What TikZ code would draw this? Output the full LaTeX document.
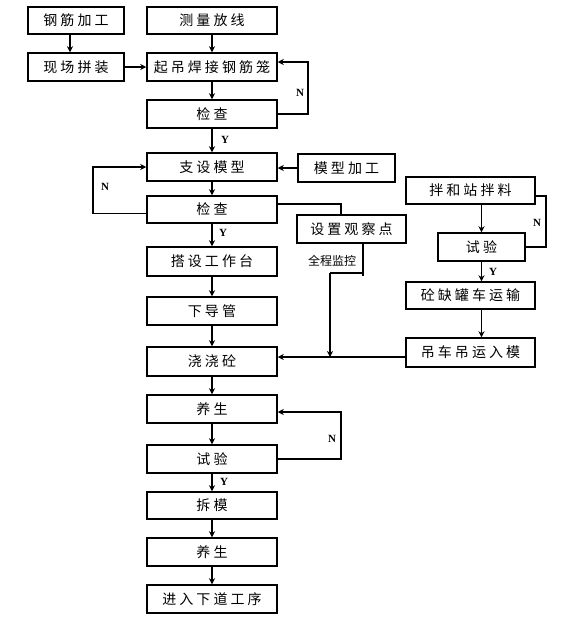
\documentclass[tikz,border=0pt]{standalone}
\usepackage{fontspec}
\setmainfont{Liberation Serif}
\newfontfamily\cjk[LetterSpace=22]{Noto Sans CJK SC}
\newfontfamily\cjkplain{Noto Sans CJK SC}
\usetikzlibrary{arrows.meta}
\begin{document}
\begin{tikzpicture}[x=1pt,y=-1pt,
  box/.style={draw,line width=1.5pt,inner sep=0pt,font=\cjk\fontsize{14}{16}\selectfont},
  col/.style={box,minimum width=130pt},
  arr/.style={line width=1.5pt,-{Stealth[length=6pt,width=6pt]}},
  ln/.style={line width=1.5pt},
  yn/.style={font=\bfseries\fontsize{11}{13}\selectfont,inner sep=0pt}]
\useasboundingbox (0,0) rectangle (565,622);
% left column
\node[box,minimum width=96pt,minimum height=27pt] (A) at (76,20.5) {钢筋加工};
\node[box,minimum width=96pt,minimum height=28pt] (C) at (76,67) {现场拼装};
% center column
\node[col,minimum height=27pt] (B) at (212,20.5) {测量放线};
\node[col,minimum height=28pt] (D) at (212,67) {起吊焊接钢筋笼};
\node[col,minimum height=28pt] (E) at (212,114) {检查};
\node[col,minimum height=28pt] (F) at (212,167) {支设模型};
\node[col,minimum height=27pt] (H) at (212,209.5) {检查};
\node[col,minimum height=29pt] (J) at (212,261.5) {搭设工作台};
\node[col,minimum height=28pt] (K) at (212,311) {下导管};
\node[col,minimum height=29pt] (L) at (212,361.5) {浇浇砼};
\node[col,minimum height=28pt] (M) at (212,409) {养生};
\node[col,minimum height=28pt] (N) at (212,459) {试验};
\node[col,minimum height=27pt] (O) at (212,505.5) {拆模};
\node[col,minimum height=28pt] (P) at (212,552) {养生};
\node[col,minimum height=28pt] (Q) at (212,599) {进入下道工序};
% middle
\node[box,minimum width=97pt,minimum height=28pt] (G) at (346.5,168) {模型加工};
\node[box,minimum width=109pt,minimum height=28pt] (I) at (351.5,229) {设置观察点};
% right column
\node[box,minimum width=129pt,minimum height=27pt] (R) at (470.5,190.5) {拌和站拌料};
\node[box,minimum width=87pt,minimum height=28pt] (S) at (481.5,247) {试验};
\node[box,minimum width=129pt,minimum height=27pt] (T) at (470.5,295.5) {砼缺罐车运输};
\node[box,minimum width=129pt,minimum height=29pt] (U) at (470.5,352.5) {吊车吊运入模};
% arrows left/center
\draw[arr] ([xshift=-6pt]A.south) -- ([xshift=-6pt]C.north);
\draw[arr] (B) -- (D);
\draw[arr] (C.east) -- (C.east -| D.west);
\draw[arr] (D) -- (E);
\draw[arr] (E) -- (F);
\draw[arr] (F) -- (H);
\draw[arr] (H) -- (J);
\draw[arr] (J) -- (K);
\draw[arr] (K) -- (L);
\draw[arr] (L) -- (M);
\draw[arr] (M) -- (N);
\draw[arr] (N) -- (O);
\draw[arr] (O) -- (P);
\draw[arr] (P) -- (Q);
\draw[arr] (G.west) -- (G.west -| F.east);
% loops
\coordinate (e1) at (308,62);
\draw[arr] (E.east) -- (E.east -| e1) -- (e1) -- (e1 -| D.east);
\node[yn] (nE) at (300,93) {N};
\coordinate (h2) at (93,167);
\draw[arr] ([yshift=-4pt]H.west) -- ([yshift=-4pt]H.west -| h2) -- (h2) -- (F.west);
\node[yn] (nH) at (105,187) {N};
\coordinate (n1) at (341,412);
\draw[arr] (N.east) -- (N.east -| n1) -- (n1) -- (n1 -| M.east);
\node[yn] (nN) at (332,439) {N};
\coordinate (s1) at (546,196);
\draw[ln] (R.east |- s1) -- (s1) -- (s1 |- S.east) -- (S.east);
\node[yn] (nS) at (537,223) {N};
% Y labels
\node[yn] (yE) at (225,140) {Y};
\node[yn] (yH) at (223,233) {Y};
\node[yn] (yS) at (493,272) {Y};
\node[yn] (yN) at (224,482) {Y};
% observation
\coordinate (h1) at (341,204);
\draw[ln] (H.east |- h1) -- (h1) -- (h1 |- I.north);
\coordinate (mx) at (363,276);
\coordinate (k) at (330,273);
\coordinate (j) at (330,357);
\draw[ln] (I.south -| mx) -- (mx);
\draw[ln] (k) -- (k -| mx);
\draw[arr] (k) -- (j);
\node[font=\cjkplain\fontsize{12}{14}\selectfont,inner sep=0pt] (mon) at (332,261) {全程监控};
% right column arrows
\draw[arr] (R.south -| S.north) -- (S.north);
\draw[arr] (S.south) -- (S.south |- T.north);
\draw[arr] (S.south |- T.south) -- (S.south |- U.north);
\draw[arr] (U.west |- j) -- (L.east |- j);
\end{tikzpicture}
\end{document}
